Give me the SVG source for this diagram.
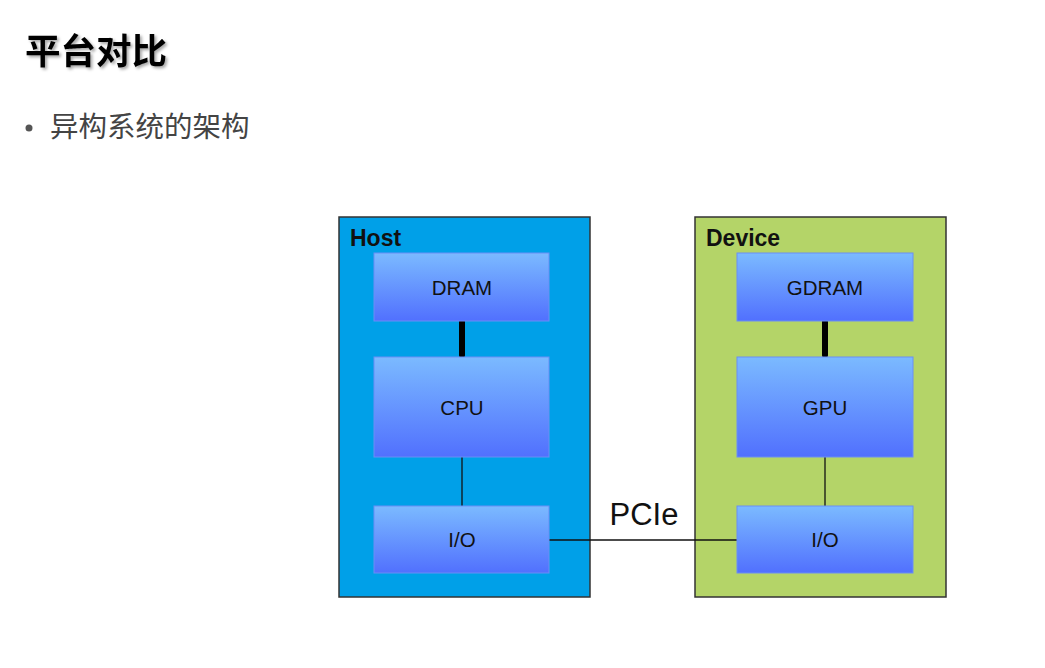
<svg xmlns="http://www.w3.org/2000/svg" width="1045" height="668" viewBox="0 0 1045 668">
<defs>
<linearGradient id="chip" x1="0" y1="0" x2="0" y2="1">
<stop offset="0" stop-color="#7bbaff"/>
<stop offset="1" stop-color="#5170fe"/>
</linearGradient>
<filter id="sh" x="-10%" y="-20%" width="130%" height="150%">
<feDropShadow dx="2" dy="2" stdDeviation="1.5" flood-color="#000" flood-opacity="0.35"/>
</filter>
<style>
.box{stroke:#333;stroke-width:1.5}
.chip{fill:url(#chip);stroke:#6a8ef5;stroke-width:1}
.lbl{font-family:"Liberation Sans",Arial,sans-serif;font-size:20.5px;fill:#111;text-anchor:middle}
.grp{font-family:"Liberation Sans",Arial,sans-serif;font-size:23px;font-weight:bold;fill:#111}
.thin{stroke:#111;stroke-width:1.3;fill:none}
.thick{stroke:#000;stroke-width:6;stroke-linecap:round}
</style>
</defs>
<rect width="1045" height="668" fill="#fff"/>
<text x="25" y="64" filter="url(#sh)" font-family="'Noto Sans CJK SC',sans-serif" font-size="35.5" font-weight="bold" fill="#000">平台对比</text>
<circle cx="29" cy="128" r="3.5" fill="#555"/>
<text x="50" y="137" font-family="'Noto Sans CJK SC',sans-serif" font-size="28.5" fill="#444">异构系统的架构</text>

<g id="host">
<rect class="box" x="339" y="217" width="251" height="380" fill="#00a0e8"/>
<text class="grp" x="350" y="246">Host</text>
</g>
<g id="device">
<rect class="box" x="695" y="217" width="251" height="380" fill="#b4d468"/>
<text class="grp" x="706" y="246">Device</text>
</g>

<g id="connectors">
<line class="thin" x1="462" y1="457" x2="462" y2="506"/>
<line class="thin" x1="825" y1="457" x2="825" y2="506"/>
<line class="thin" x1="549" y1="540" x2="737" y2="540"/>
<line class="thick" x1="462" y1="322" x2="462" y2="355"/>
<line class="thick" x1="825" y1="322" x2="825" y2="355"/>
<text x="644" y="525" font-family="'Liberation Sans',Arial,sans-serif" font-size="31" fill="#111" text-anchor="middle">PCIe</text>
</g>

<g id="dram"><rect class="chip" x="374" y="253" width="175" height="68"/><text class="lbl" x="462" y="295">DRAM</text></g>
<g id="cpu"><rect class="chip" x="374" y="357" width="175" height="100"/><text class="lbl" x="462" y="415">CPU</text></g>
<g id="hio"><rect class="chip" x="374" y="506" width="175" height="67"/><text class="lbl" x="462" y="547">I/O</text></g>
<g id="gdram"><rect class="chip" x="737" y="253" width="176" height="68"/><text class="lbl" x="825" y="295">GDRAM</text></g>
<g id="gpu"><rect class="chip" x="737" y="357" width="176" height="100"/><text class="lbl" x="825" y="415">GPU</text></g>
<g id="dio"><rect class="chip" x="737" y="506" width="176" height="67"/><text class="lbl" x="825" y="547">I/O</text></g>
</svg>
